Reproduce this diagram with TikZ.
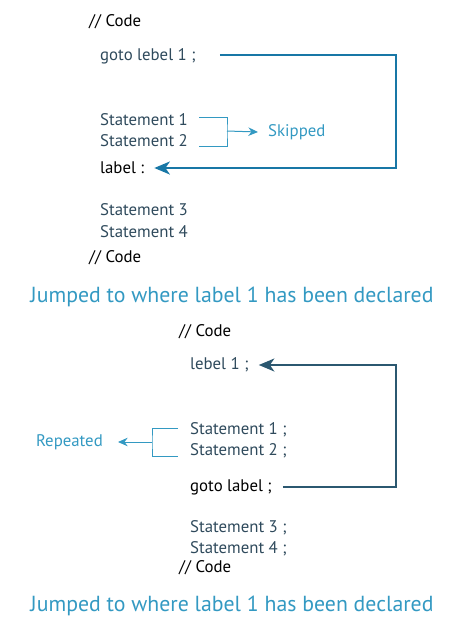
\documentclass[tikz,border=0pt]{standalone}
\usepackage{fontspec}
\setmainfont{PT Sans}
\usepackage{xcolor}
\usetikzlibrary{arrows.meta,positioning,calc}
\definecolor{codeink}{HTML}{2F4A5C}
\definecolor{jumpblue}{HTML}{1877A6}
\definecolor{loopblue}{HTML}{2B5870}
\definecolor{noteblue}{HTML}{3399C2}

\begin{document}
\begin{tikzpicture}[x=1pt,y=-1pt,
  stmt/.style={anchor=west,inner sep=0pt,text=codeink,font=\fontsize{16.8}{20}\selectfont},
  kw/.style={stmt,text=black},
  note/.style={inner sep=0pt,text=noteblue,font=\fontsize{16.8}{20}\selectfont},
  caption/.style={inner sep=0pt,text=noteblue,font=\fontsize{21.8}{26}\selectfont},
  jump/.style={-{Triangle[length=5.5mm,width=4.6mm,inset=1.6mm]},line width=1.7pt,jumpblue},
  brace/.style={line width=1pt,noteblue},
  barr/.style={-{Triangle[length=3.4mm,width=3mm,inset=1.1mm]},line width=1pt,noteblue}
]
\useasboundingbox (0,0) rectangle (474,632);
% upper listing
\node[kw] (c1) at (89,22) {// Code};
\node[stmt] (g1) at (100,56) {goto lebel 1 ;};
\node[stmt] (s1) at (100,120) {Statement 1};
\node[stmt] (s2) at (100,141) {Statement 2};
\node[kw] (lab) at (100,168) {label :};
\node[stmt] (s3) at (100,210) {Statement 3};
\node[stmt] (s4) at (100,232) {Statement 4};
\node[kw] (c2) at (89,258) {// Code};
\node[note,anchor=west] (skip) at (268,132) {Skipped};
\node[caption] (cap1) at (232,297) {Jumped to where label 1 has been declared};
\coordinate (t1) at (396,55);
\coordinate (b1) at (227,131);
\draw[jump] (g1.east) ++(24,-1) -- (t1) |- ($(lab.east)+(10,0)$);
\draw[brace] ($(s1.east)+(11,-3)$) -| (b1) |- ($(s2.east)+(11,5)$);
\draw[barr] (b1) -- ($(skip.west)+(-10,0)$);
% lower listing
\node[kw] (c3) at (179,332) {// Code};
\node[stmt] (l1) at (190,365) {lebel 1 ;};
\node[stmt] (r1) at (190,430) {Statement 1 ;};
\node[stmt] (r2) at (190,451) {Statement 2 ;};
\node[kw] (g2) at (190,487) {goto label ;};
\node[stmt] (r3) at (190,528) {Statement 3 ;};
\node[stmt] (r4) at (190,549) {Statement 4 ;};
\node[kw] (c4) at (179,568) {// Code};
\node[note,anchor=east] (rep) at (103,442) {Repeated};
\node[caption] (cap2) at (232,606) {Jumped to where label 1 has been declared};
\coordinate (t2) at (396,487);
\coordinate (b2) at (152,442);
\draw[jump,loopblue,line width=1.4pt] (g2.east) ++(11,0) -- (t2) |- ($(l1.east)+(10,0)$);
\draw[brace] ($(r1.west)+(-12,-2)$) -| (b2) |- ($(r2.west)+(-12,5)$);
\draw[barr] (b2) -- ($(rep.east)+(15,0)$);
\end{tikzpicture}
\end{document}
